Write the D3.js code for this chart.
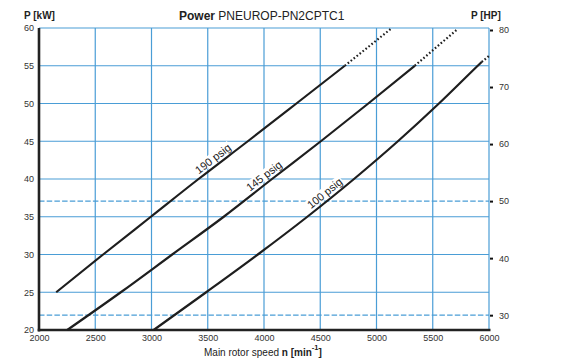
<!DOCTYPE html>
<html>
<head>
<meta charset="utf-8">
<script src="https://cdnjs.cloudflare.com/ajax/libs/d3/7.8.5/d3.min.js"></script>
<style>
	body { margin: 0; background: #fff; }
	svg { display: block; font-family: "Liberation Sans", Arial, sans-serif; }
	.tick text { fill: #333; font-size: 9px; }
</style>
</head>
<body>
<div id="chart"></div>
<script>
// Power vs main rotor speed

// Speed ticks [min-1] and power ticks
var speedTicks = [2000, 2500, 3000, 3500, 4000, 4500, 5000, 5500, 6000];
var kwTicks = [20, 25, 30, 35, 40, 45, 50, 55, 60];
var hpTicks = [30, 40, 50, 60, 70, 80];
var hpDashed = [30, 50];
// HP axis range as printed on the right side (bottom, top)
var hpRange = [27.4, 80.35];

// Curves (solid part)
var speed190 = [2153, 2570, 2994, 3418, 3856, 4288, 4718];
var power190 = [25, 30, 35, 40, 45, 50, 55];
var speed145 = [2251, 2727, 3184, 3642, 4071, 4505, 4927, 5340];
var power145 = [20, 25, 30, 35, 40, 45, 50, 55];
var speed100 = [3019, 3486, 3945, 4385, 4800, 5190, 5555, 5900, 5935];
var power100 = [20, 25, 30, 35, 40, 45, 50, 55, 55.5];

// Dotted extensions
var speed190Ext = [4718, 5137];
var power190Ext = [55, 60];
var speed145Ext = [5340, 5716];
var power145Ext = [55, 59.8];
var speed100Ext = [5935, 6000];
var power100Ext = [55.5, 56.3];

var seriesNames = ['190 psig', '145 psig', '100 psig'];
var labelSpeed = [3586, 4040, 4580];

var width = 581,
	height = 362,
	margin = {top: 28, right: 92, bottom: 32, left: 39},
	gridColor = '#4a9dd6',
	lineColor = '#1e1e1e';

var x = d3.scaleLinear().domain([2000, 6000]).range([margin.left, width - margin.right]);
var y = d3.scaleLinear().domain([20, 60]).range([height - margin.bottom, margin.top]);
var yHp = d3.scaleLinear().domain(hpRange).range(y.range());

var svg = d3.select('#chart').append('svg')
	.attr('width', width)
	.attr('height', height);

// grid
var grid = svg.append('g').attr('class', 'grid');
grid.selectAll('.vgrid')
	.data(speedTicks)
	.enter().append('line')
	.attr('x1', function(d) { return x(d); })
	.attr('x2', function(d) { return x(d); })
	.attr('y1', y(60))
	.attr('y2', y(20))
	.attr('stroke', gridColor)
	.attr('stroke-width', 1.2);

grid.selectAll('.hgrid')
	.data(kwTicks)
	.enter().append('line')
	.attr('x1', x(2000))
	.attr('x2', x(6000))
	.attr('y1', function(d) { return y(d); })
	.attr('y2', function(d) { return y(d); })
	.attr('stroke', gridColor)
	.attr('stroke-width', 1.2);

grid.selectAll('.dgrid')
	.data(hpDashed)
	.enter().append('line')
	.attr('x1', x(2000))
	.attr('x2', x(6000))
	.attr('y1', function(d) { return yHp(d); })
	.attr('y2', function(d) { return yHp(d); })
	.attr('stroke', gridColor)
	.attr('stroke-width', 1.4)
	.attr('stroke-dasharray', '5.5,2.2');

// axes (labels only, domain drawn by hand)
var leftAxis = svg.append('g')
	.attr('transform', 'translate(' + margin.left + ',0)')
	.call(d3.axisLeft(y).tickValues(kwTicks).tickSize(0).tickPadding(5));

var bottomAxis = svg.append('g')
	.attr('transform', 'translate(0,' + (height - margin.bottom) + ')')
	.call(d3.axisBottom(x).tickValues(speedTicks).tickSize(0).tickPadding(5).tickFormat(d3.format('d')));

var rightAxis = svg.append('g')
	.attr('transform', 'translate(' + (x(6000) + 1) + ',0)')
	.call(d3.axisRight(yHp).tickValues(hpTicks).tickSize(3).tickPadding(6));

[leftAxis, bottomAxis, rightAxis].forEach(function(a) {
	a.select('.domain').remove();
	a.attr('font-family', null).attr('font-size', null);
});
rightAxis.selectAll('.tick line').attr('stroke', '#111').attr('stroke-width', 2);

svg.append('line')
	.attr('x1', x(2000)).attr('x2', x(2000))
	.attr('y1', y(60)).attr('y2', y(20) + 1.5)
	.attr('stroke', '#222').attr('stroke-width', 2.6);
svg.append('line')
	.attr('x1', x(2000) - 1.3).attr('x2', x(6000) + 1.5)
	.attr('y1', y(20)).attr('y2', y(20))
	.attr('stroke', '#222').attr('stroke-width', 2.6);

// curves
var line = d3.line()
	.x(function(d) { return x(d[0]); })
	.y(function(d) { return y(d[1]); })
	.curve(d3.curveMonotoneX);

var solid = [d3.zip(speed190, power190), d3.zip(speed145, power145), d3.zip(speed100, power100)];
var dotted = [d3.zip(speed190Ext, power190Ext), d3.zip(speed145Ext, power145Ext), d3.zip(speed100Ext, power100Ext)];

svg.append('g').selectAll('path')
	.data(solid)
	.enter().append('path')
	.attr('d', line)
	.attr('fill', 'none')
	.attr('stroke', lineColor)
	.attr('stroke-width', 2.2);

svg.append('g').selectAll('path')
	.data(dotted)
	.enter().append('path')
	.attr('d', line)
	.attr('fill', 'none')
	.attr('stroke', lineColor)
	.attr('stroke-width', 2.2)
	.attr('stroke-dasharray', '1.6,2.2');

// power at a given speed along a curve (linear between read points)
function powerAt(pts, n) {
	var i = d3.bisector(function(d) { return d[0]; }).left(pts, n);
	i = Math.max(1, Math.min(pts.length - 1, i));
	var a = pts[i - 1], b = pts[i];
	return a[1] + (b[1] - a[1]) * (n - a[0]) / (b[0] - a[0]);
}

// curve labels with white backing
var labels = svg.append('g').selectAll('g')
	.data(seriesNames)
	.enter().append('g')
	.attr('transform', function(d, i) {
		var n = labelSpeed[i], pts = solid[i];
		var px = x(n), py = y(powerAt(pts, n));
		var dx = x(n + 100) - x(n - 100);
		var dy = y(powerAt(pts, n + 100)) - y(powerAt(pts, n - 100));
		var angle = Math.atan2(dy, dx) * 180 / Math.PI;
		return 'translate(' + px + ',' + py + ') rotate(' + angle + ')';
	});

labels.append('text')
	.attr('text-anchor', 'middle')
	.attr('y', -3.5)
	.attr('font-size', '11px')
	.attr('fill', '#222')
	.text(function(d) { return d; });

labels.insert('rect', 'text')
	.each(function() {
		var bb = this.parentNode.querySelector('text').getBBox();
		d3.select(this)
			.attr('x', bb.x - 1)
			.attr('y', bb.y + 0.5)
			.attr('width', bb.width + 2)
			.attr('height', bb.height - 1.5)
			.attr('fill', '#fff');
	});

// titles
var title = svg.append('text')
	.attr('x', 179)
	.attr('y', 20)
	.attr('font-size', '12px')
	.attr('fill', '#222');
title.append('tspan').attr('font-weight', 'bold').text('Power ');
title.append('tspan').text('PNEUROP-PN2CPTC1');

svg.append('text')
	.attr('x', 24).attr('y', 19)
	.attr('font-size', '10px').attr('font-weight', 'bold').attr('fill', '#222')
	.text('P [kW]');

svg.append('text')
	.attr('x', 471).attr('y', 19)
	.attr('font-size', '10px').attr('font-weight', 'bold').attr('fill', '#222')
	.text('P [HP]');

var xTitle = svg.append('text')
	.attr('x', 204)
	.attr('y', 356)
	.attr('font-size', '10px')
	.attr('fill', '#222');
xTitle.append('tspan').text('Main rotor speed ');
xTitle.append('tspan').attr('font-weight', 'bold').text('n [min');
xTitle.append('tspan').attr('font-weight', 'bold').attr('font-size', '7.5px').attr('dy', -6).text('-1');
xTitle.append('tspan').attr('font-weight', 'bold').attr('dy', 6).text(']');
</script>
</body>
</html>
